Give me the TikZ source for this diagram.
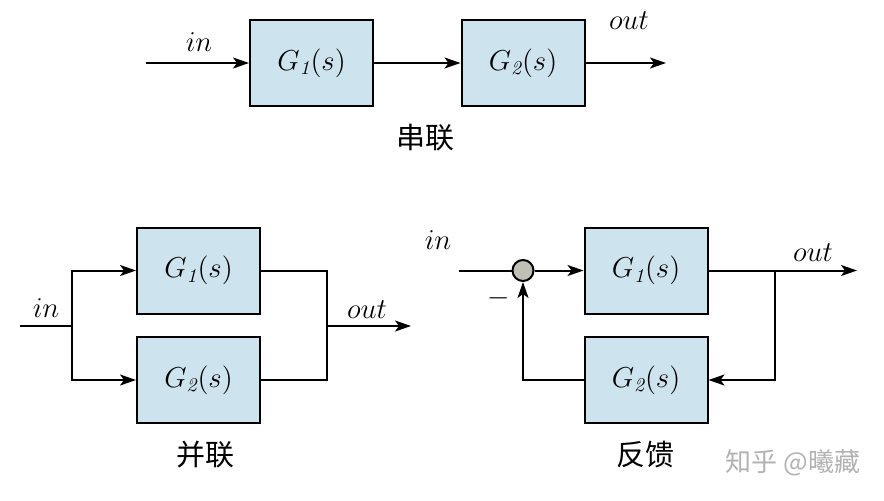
\documentclass[tikz,border=0pt]{standalone}
\usepackage{fontspec}
\newfontfamily\cjk{Noto Sans CJK SC}
\usetikzlibrary{arrows.meta}
\definecolor{boxfill}{RGB}{205,227,238}
\definecolor{sumfill}{RGB}{192,192,182}
\definecolor{wmgray}{RGB}{178,178,178}
\tikzset{
  blk/.style={draw=black, line width=1pt, fill=boxfill, minimum width=61.5pt, minimum height=43pt, inner sep=0pt, font=\fontsize{14}{17}\selectfont},
  sig/.style={line width=1pt},
  arr/.style={line width=1pt, -{Stealth[length=8pt,width=5.5pt,inset=2pt]}},
  lbl/.style={inner sep=0pt, font=\fontsize{14}{17}\selectfont},
  captext/.style={inner sep=0pt, font=\cjk\fontsize{14.5}{17}\selectfont},
  sumpt/.style={circle, draw=black, line width=1pt, fill=sumfill, minimum size=10.5pt, inner sep=0pt},
  wm/.style={inner sep=0pt, text=wmgray, font=\cjk\fontsize{13}{16}\selectfont}
}
\begin{document}
\begin{tikzpicture}[x=0.5pt,y=-0.5pt]
\useasboundingbox (0,0) rectangle (884,500);
% ---------- series ----------
\node[blk] (b1) at (311.5,63) {$G_{\mathit{1}}(s)$};
\node[blk] (b2) at (523,63) {$G_{\mathit{2}}(s)$};
\coordinate (tin) at (146,63);
\coordinate (tout) at (666,63);
\draw[arr] (tin) -- (b1.west);
\draw[arr] (b1.east) -- (b2.west);
\draw[arr] (b2.east) -- (tout);
\node[lbl] (tinl) at (199,42) {$in$};
\node[lbl] (toutl) at (629,21) {$out$};
\node[captext] (tcap) at (425,138) {串联};
% ---------- parallel ----------
\node[blk] (p1) at (198.5,270.5) {$G_{\mathit{1}}(s)$};
\node[blk] (p2) at (198.5,380) {$G_{\mathit{2}}(s)$};
\coordinate (pin) at (20,326);
\coordinate (pj) at (72,326);
\coordinate (pk) at (327,326);
\coordinate (pout) at (411,326);
\draw[sig] (pin) -- (pj);
\draw[arr] (pj) |- (p1.west);
\draw[arr] (pj) |- (p2.west);
\draw[sig] (p1.east) -| (pk);
\draw[sig] (p2.east) -| (pk);
\draw[arr] (pk) -- (pout);
\node[lbl] (pinl) at (46,308) {$in$};
\node[lbl] (poutl) at (367,310) {$out$};
\node[captext] (pcap) at (205,455) {并联};
% ---------- feedback ----------
\node[blk] (f1) at (646,270.5) {$G_{\mathit{1}}(s)$};
\node[blk] (f2) at (646,380) {$G_{\mathit{2}}(s)$};
\node[sumpt] (c) at (523,270.5) {};
\coordinate (fin) at (459,270.5);
\coordinate (fk) at (775,270.5);
\coordinate (fout) at (857,270.5);
\draw[sig] (fin) -- (c.west);
\draw[arr] (c.east) -- (f1.west);
\draw[sig] (f1.east) -- (fk);
\draw[arr] (fk) -- (fout);
\draw[arr] (fk) |- (f2.east);
\draw[arr] (f2.west) -| (c.south);
\node[lbl] (finl) at (438,240) {$in$};
\node[lbl] (foutl) at (813,253) {$out$};
\node[lbl] (minus) at (499,298) {$-$};
\node[captext] (fcap) at (645,455) {反馈};
% ---------- watermark ----------
\node[wm] (wmk) at (793,463) {知乎 @曦藏};
\end{tikzpicture}
\end{document}
